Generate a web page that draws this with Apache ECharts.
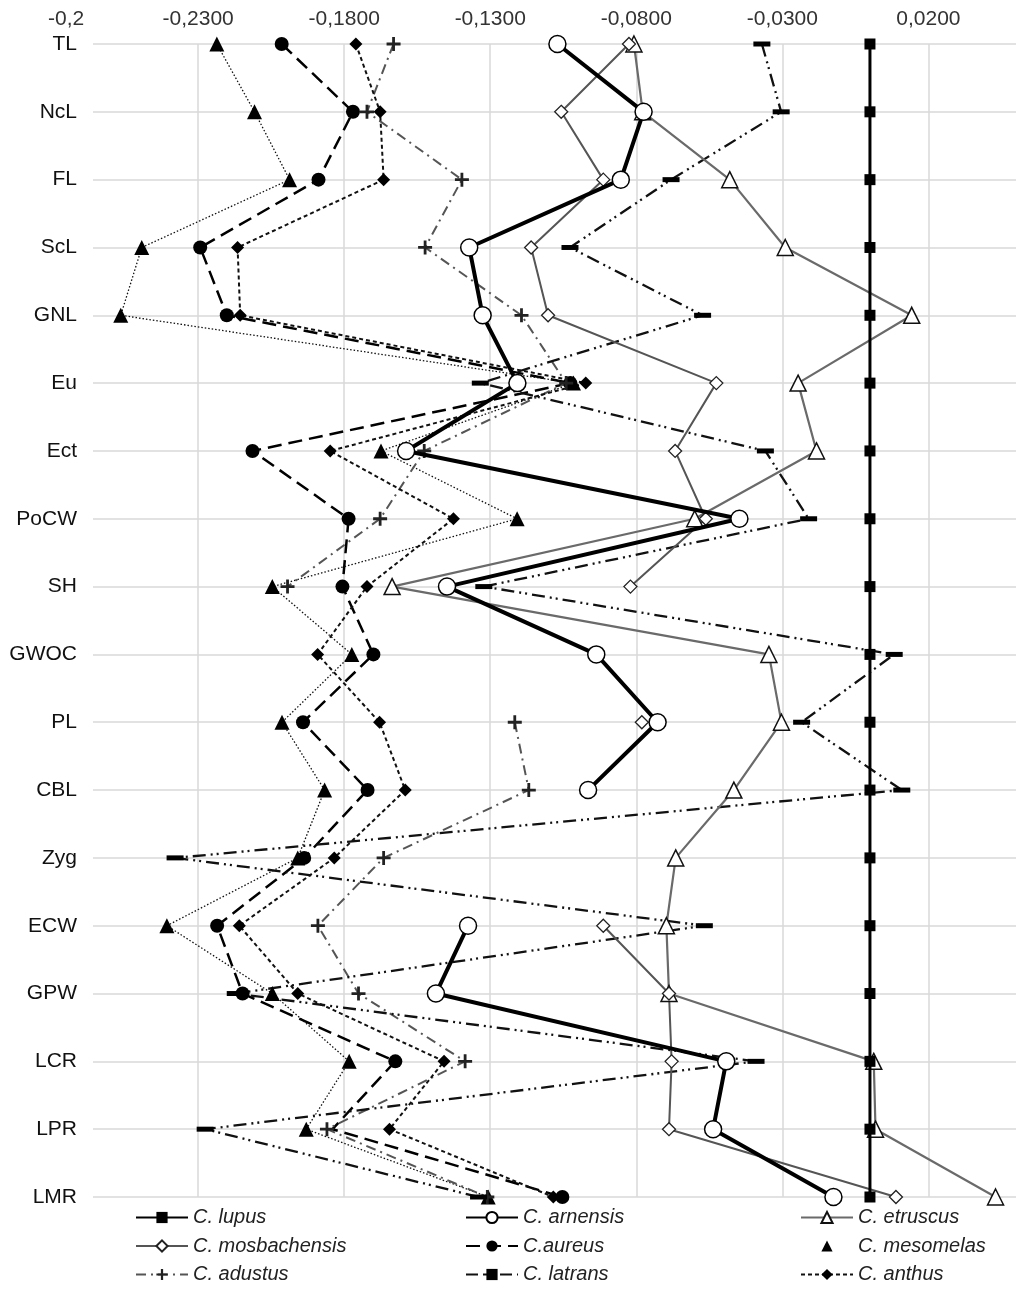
<!DOCTYPE html>
<html>
<head>
<meta charset="utf-8">
<script src="https://cdn.jsdelivr.net/npm/echarts@6/dist/echarts.min.js"></script>
<style>
  html, body { margin: 0; padding: 0; background: #fff; }
  #chart { width: 1028px; height: 1292px; }
</style>
</head>
<body>
<div id="chart"></div>
<script>
// measurements, top to bottom
const categories = ['TL', 'NcL', 'FL', 'ScL', 'GNL', 'Eu', 'Ect', 'PoCW', 'SH', 'GWOC', 'PL', 'CBL', 'Zyg', 'ECW', 'GPW', 'LCR', 'LPR', 'LMR'];

const lupus        = [0, 0, 0, 0, 0, 0, 0, 0, 0, 0, 0, 0, 0, 0, 0, 0, 0, 0];
const arnensis     = [-0.1070, -0.0775, -0.0853, -0.1372, -0.1326, -0.1207, -0.1588, -0.0447, -0.1448, -0.0937, -0.0727, -0.0965, null, -0.1376, -0.1486, -0.0492, -0.0537, -0.0125];
const etruscus     = [-0.0808, -0.0778, -0.0480, -0.0290, 0.0143, -0.0246, -0.0183, -0.0600, -0.1636, -0.0346, -0.0303, -0.0466, -0.0665, -0.0697, -0.0688, 0.0013, 0.0019, 0.0430];
const mosbachensis = [-0.0825, -0.1057, -0.0913, -0.1160, -0.1102, -0.0526, -0.0667, -0.0562, -0.0820, null, -0.0781, null, null, -0.0913, -0.0688, -0.0679, -0.0688, 0.0089];
const aureus       = [-0.2014, -0.1770, -0.1888, -0.2293, -0.2202, -0.1026, -0.2114, -0.1785, -0.1806, -0.1700, -0.1941, -0.1720, -0.1937, -0.2235, -0.2148, -0.1625, -0.1840, -0.1053];
const mesomelas    = [-0.2236, -0.2107, -0.1987, -0.2493, -0.2565, -0.1015, -0.1674, -0.1208, -0.2046, -0.1774, -0.2013, -0.1867, -0.1959, -0.2407, -0.2046, -0.1783, -0.1930, -0.1307];
const adustus      = [-0.1631, -0.1722, -0.1397, -0.1523, -0.1193, -0.1040, -0.1526, -0.1677, -0.1994, null, -0.1216, -0.1168, -0.1665, -0.1890, -0.1751, -0.1386, -0.1859, -0.1310];
const latrans      = [-0.0370, -0.0304, -0.0681, -0.1027, -0.0573, -0.1334, -0.0358, -0.0210, -0.1322, 0.0083, -0.0234, 0.0109, -0.2379, -0.0567, -0.2173, -0.0390, -0.2276, -0.1340];
const anthus       = [-0.1760, -0.1677, -0.1665, -0.2165, -0.2156, -0.0973, -0.1848, -0.1426, -0.1722, -0.1891, -0.1679, -0.1591, -0.1834, -0.2159, -0.1959, -0.1458, -0.1645, -0.1084];

const xTicks = [-0.23, -0.18, -0.13, -0.08, -0.03, 0.02];
const xEdgeLabel = '-0,2';

const plus = 'path://M4,0h2v4h4v2h-4v4h-2v-4h-4v-2h4z';
const font = 'Liberation Sans';

function line(name, data, o) {
    return {
        name: name,
        type: 'line',
        data: data,
        connectNulls: false,
        symbol: o.symbol,
        symbolSize: o.size,
        showAllSymbol: true,
        z: o.z || 2,
        lineStyle: { color: o.color, width: o.width, type: o.dash || 'solid' },
        itemStyle: { color: o.fill, borderColor: o.border || o.fill, borderWidth: o.bw || 0 },
        emphasis: { disabled: true }
    };
}

// the C.aureus mark at LPR is covered in the original
const aureusData = aureus.map((v, i) => i === 16 ? { value: v, symbol: 'none' } : v);

const series = [
    line('C. lupus', lupus, { symbol: 'rect', size: 11, color: '#000', width: 3, fill: '#000', z: 6 }),
    line('C. arnensis', arnensis, { symbol: 'circle', size: 17, color: '#000', width: 4, fill: '#fff', border: '#000', bw: 1.5, z: 5 }),
    line('C. etruscus', etruscus, { symbol: 'triangle', size: 16, color: '#6a6a6a', width: 2.2, fill: '#fff', border: '#111', bw: 1.5, z: 4 }),
    line('C. mosbachensis', mosbachensis, { symbol: 'diamond', size: 13, color: '#555', width: 2, fill: '#fff', border: '#222', bw: 1.3, z: 4 }),
    line('C.aureus', aureusData, { symbol: 'circle', size: 14, color: '#000', width: 2.5, dash: [14, 7], fill: '#000', z: 3 }),
    line('C. mesomelas', mesomelas, { symbol: 'triangle', size: 15, color: '#111', width: 1.3, dash: [1.5, 2], fill: '#000', z: 3 }),
    line('C. adustus', adustus, { symbol: plus, size: 14, color: '#555', width: 2, dash: [10, 5, 2, 5], fill: '#222', z: 3 }),
    line('C. latrans', latrans, { symbol: 'rect', size: [17, 5], color: '#111', width: 2.3, dash: [13, 5, 2, 4, 2, 5], fill: '#000', z: 3 }),
    line('C. anthus', anthus, { symbol: 'diamond', size: 13, color: '#111', width: 2, dash: [4, 3], fill: '#000', z: 3 })
];

// legend keys that differ from the plotted line
const legendOverride = {
    'C. mesomelas': { lineStyle: { opacity: 0 } },
    'C. latrans': { lineStyle: { type: [12, 5] } }
};

function legendCol(left, names) {
    return {
        orient: 'vertical',
        left: left,
        top: 1207,
        height: 95,
        itemWidth: 52,
        itemHeight: 14,
        itemGap: 7.5,
        padding: 0,
        selectedMode: false,
        data: names.map(n => legendOverride[n] ? Object.assign({ name: n }, legendOverride[n]) : n),
        textStyle: { fontFamily: font, fontSize: 20, fontStyle: 'italic', color: '#222', lineHeight: 21 }
    };
}

const chart = echarts.init(document.getElementById('chart'));
chart.setOption({
    animation: false,
    backgroundColor: '#fff',
    grid: { left: 93, right: 12, top: 44, bottom: 95, containLabel: false },
    xAxis: {
        type: 'value',
        position: 'top',
        min: -0.266,
        max: 0.05,
        axisLine: { show: false },
        axisTick: { show: false, customValues: xTicks },
        axisLabel: {
            customValues: xTicks,
            margin: 14,
            fontFamily: font,
            fontSize: 21,
            color: '#333',
            formatter: v => v.toFixed(4).replace('.', ',')
        },
        splitLine: { show: true, lineStyle: { color: '#d9d9d9', width: 1.5 } }
    },
    yAxis: {
        type: 'category',
        inverse: true,
        boundaryGap: false,
        data: categories,
        axisLine: { show: false },
        axisTick: { show: false },
        axisLabel: { margin: 16, fontFamily: font, fontSize: 21, color: '#111' },
        splitLine: { show: true, lineStyle: { color: '#d9d9d9', width: 1.5 } }
    },
    legend: [
        legendCol(135, ['C. lupus', 'C. mosbachensis', 'C. adustus']),
        legendCol(465, ['C. arnensis', 'C.aureus', 'C. latrans']),
        legendCol(800, ['C. etruscus', 'C. mesomelas', 'C. anthus'])
    ],
    graphic: [{
        type: 'text',
        left: 48,
        top: 9,
        style: { text: xEdgeLabel, font: '21px "Liberation Sans"', fill: '#333' }
    }],
    series: series
});
</script>
</body>
</html>
